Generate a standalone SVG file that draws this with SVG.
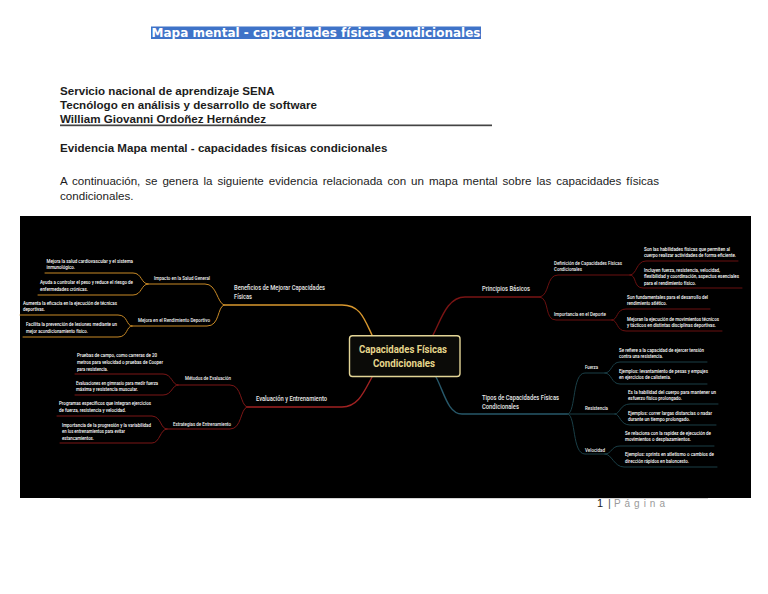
<svg xmlns="http://www.w3.org/2000/svg" width="768" height="594" viewBox="0 0 768 594">
<style>
text{font-family:"Roboto","Liberation Sans",sans-serif}
.doc{font-family:"Liberation Sans",Arial,sans-serif;font-size:11.6px;fill:#1c1c1c}
.bd{font-weight:700}
.s{font-size:5.2px;fill:#fff;font-weight:500}
.m{font-size:5.4px;fill:#f4f4f4;font-weight:500}
.l{font-size:6.8px;fill:#e8e8e8;font-weight:500}
.c{font-size:11px;fill:#e6d68c;font-weight:700}
path{fill:none;stroke-linecap:round}
.o{stroke:#c98a26;stroke-width:1}
.o1{stroke:#d9982e;stroke-width:1.4}
.r{stroke:#6a1010;stroke-width:1}
.r1{stroke:#7a1414;stroke-width:1.4}
.e{stroke:#7c1616;stroke-width:1}
.e1{stroke:#a02222;stroke-width:1.4}
.t{stroke:#1a3f47;stroke-width:1}
.t1{stroke:#27586a;stroke-width:1.4}
</style>
<rect width="768" height="594" fill="#fff"/>
<g id="header">
<rect x="151" y="26.5" width="330" height="12.5" fill="#3f73c8"/>
<text x="151.5" y="36.5" textLength="329" lengthAdjust="spacing" style="font-family:'DejaVu Sans',sans-serif;font-size:12px;font-weight:700;fill:#fff">Mapa mental - capacidades físicas condicionales</text>
<text class="doc bd" x="60" y="95">Servicio nacional de aprendizaje SENA</text>
<text class="doc bd" x="60" y="108.5">Tecnólogo en análisis y desarrollo de software</text>
<text class="doc bd" x="60" y="122.5">William Giovanni Ordoñez Hernández</text>
<rect x="60" y="124.5" width="432" height="1.7" fill="#444"/>
<text class="doc bd" x="60" y="152">Evidencia Mapa mental - capacidades físicas condicionales</text>
<text class="doc" x="60" y="185" style="word-spacing:1.7px">A continuación, se genera la siguiente evidencia relacionada con un mapa mental sobre las capacidades físicas</text>
<text class="doc" x="60" y="200">condicionales.</text>
</g>
<rect id="canvas" x="20" y="216" width="731" height="282" fill="#000"/>
<rect x="60" y="498" width="648" height="1" fill="#d4d4d4"/>
<g id="connectors">
<path class="o1" d="M372 335C364 318 360 305 342 305H224"/>
<path class="o" d="M224 305C217 303 217 284 205 284H148M148 284C141 284 142 273 133 273H45M148 284C141 284 142 295 133 295H38M224 305C217 307 220 326 207 326H132M132 326C126 326 128 315 118 315H20M132 326C126 326 128 337 118 337H23"/>
<path class="e1" d="M372 377C364 392 358 407 342 407H247"/>
<path class="e" d="M247 407C240 405 242 385 230 385H178M178 385C172 385 172 374 163 374H75M178 385C172 385 172 395 163 395H75M247 407C240 409 242 429 230 429H167M167 429C160 429 162 417 152 416H57M167 429C160 429 160 443 152 443H60"/>
<path class="r1" d="M433 335C441 320 447 297 465 297H540"/>
<path class="r" d="M540 297C550 295 546 275 558 275H630M630 275C637 275 636 261 646 261H738M630 275C637 275 633 288 643 288H742M540 297C550 299 544 320 556 320H612M612 320C618 320 616 309 626 309H710M612 320C618 320 616 331 626 331H722"/>
<path class="t1" d="M436 377C444 392 448 414 462 414H568"/>
<path class="t" d="M568 414C576 412 572 373 585 373H605M605 373C612 373 611 362 620 362H707M605 373C612 373 611 384 620 384H707M568 414H615M615 414C620 414 620 404 630 404H718M615 414C620 414 620 425 630 425H716M568 414C576 416 572 454 585 454H605M605 454C612 454 611 446 620 446H714M605 454C612 454 614 467 624 467H717"/>
</g>
<g id="center">
<rect x="349.5" y="335.8" width="110.5" height="40.7" rx="3" fill="#0b0b08" stroke="#e3d596" stroke-width="1.4"/>
<text class="c" x="359" y="353" textLength="88" lengthAdjust="spacingAndGlyphs">Capacidades Físicas</text>
<text class="c" x="373" y="367" textLength="62" lengthAdjust="spacingAndGlyphs">Condicionales</text>
</g>
<g id="beneficios">
<text class="l" x="234" y="290" textLength="91" lengthAdjust="spacingAndGlyphs">Beneficios de Mejorar Capacidades</text>
<text class="l" x="234" y="299" textLength="18" lengthAdjust="spacingAndGlyphs">Físicas</text>
</g>
<g id="impacto">
<text class="m" x="154" y="279.5" textLength="56" lengthAdjust="spacingAndGlyphs">Impacto en la Salud General</text>
<text class="s" x="46.5" y="263" textLength="86.5" lengthAdjust="spacingAndGlyphs">Mejora la salud cardiovascular y el sistema</text>
<text class="s" x="46.5" y="269" textLength="28.5" lengthAdjust="spacingAndGlyphs">inmunológico.</text>
<text class="s" x="40" y="284" textLength="93" lengthAdjust="spacingAndGlyphs">Ayuda a controlar el peso y reduce el riesgo de</text>
<text class="s" x="40" y="290.5" textLength="48" lengthAdjust="spacingAndGlyphs">enfermedades crónicas.</text>
</g>
<g id="rendimiento">
<text class="m" x="138" y="321.5" textLength="72" lengthAdjust="spacingAndGlyphs">Mejora en el Rendimiento Deportivo</text>
<text class="s" x="23" y="304.8" textLength="94" lengthAdjust="spacingAndGlyphs">Aumenta la eficacia en la ejecución de técnicas</text>
<text class="s" x="23" y="311" textLength="22" lengthAdjust="spacingAndGlyphs">deportivas.</text>
<text class="s" x="26" y="326" textLength="91" lengthAdjust="spacingAndGlyphs">Facilita la prevención de lesiones mediante un</text>
<text class="s" x="26" y="332.5" textLength="62" lengthAdjust="spacingAndGlyphs">mejor acondicionamiento físico.</text>
</g>
<g id="evaluacion-entrenamiento">
<text class="l" x="256" y="401" textLength="71" lengthAdjust="spacingAndGlyphs">Evaluación y Entrenamiento</text>
</g>
<g id="metodos">
<text class="m" x="185" y="380" textLength="46" lengthAdjust="spacingAndGlyphs">Métodos de Evaluación</text>
<text class="s" x="77" y="357" textLength="80" lengthAdjust="spacingAndGlyphs">Pruebas de campo, como carreras de 20</text>
<text class="s" x="77" y="363.5" textLength="86" lengthAdjust="spacingAndGlyphs">metros para velocidad o pruebas de Cooper</text>
<text class="s" x="77" y="370.5" textLength="31" lengthAdjust="spacingAndGlyphs">para resistencia.</text>
<text class="s" x="76" y="384.8" textLength="82" lengthAdjust="spacingAndGlyphs">Evaluaciones en gimnasio para medir fuerza</text>
<text class="s" x="76" y="391" textLength="62" lengthAdjust="spacingAndGlyphs">máxima y resistencia muscular.</text>
</g>
<g id="estrategias">
<text class="m" x="173" y="426" textLength="58" lengthAdjust="spacingAndGlyphs">Estrategias de Entrenamiento</text>
<text class="s" x="59" y="405" textLength="92" lengthAdjust="spacingAndGlyphs">Programas específicos que integran ejercicios</text>
<text class="s" x="59" y="411.5" textLength="67" lengthAdjust="spacingAndGlyphs">de fuerza, resistencia y velocidad.</text>
<text class="s" x="62" y="427" textLength="89" lengthAdjust="spacingAndGlyphs">Importancia de la progresión y la variabilidad</text>
<text class="s" x="62" y="433" textLength="63" lengthAdjust="spacingAndGlyphs">en los entrenamientos para evitar</text>
<text class="s" x="62" y="440" textLength="32" lengthAdjust="spacingAndGlyphs">estancamientos.</text>
</g>
<g id="principios">
<text class="l" x="482" y="291" textLength="48" lengthAdjust="spacingAndGlyphs">Principios Básicos</text>
</g>
<g id="definicion">
<text class="m" x="554" y="265" textLength="68" lengthAdjust="spacingAndGlyphs">Definición de Capacidades Físicas</text>
<text class="m" x="554" y="271" textLength="28" lengthAdjust="spacingAndGlyphs">Condicionales</text>
<text class="s" x="644" y="251" textLength="86" lengthAdjust="spacingAndGlyphs">Son las habilidades físicas que permiten al</text>
<text class="s" x="644" y="257" textLength="92" lengthAdjust="spacingAndGlyphs">cuerpo realizar actividades de forma eficiente.</text>
<text class="s" x="644" y="272" textLength="76" lengthAdjust="spacingAndGlyphs">Incluyen fuerza, resistencia, velocidad,</text>
<text class="s" x="644" y="278" textLength="95" lengthAdjust="spacingAndGlyphs">flexibilidad y coordinación, aspectos esenciales</text>
<text class="s" x="644" y="285" textLength="52" lengthAdjust="spacingAndGlyphs">para el rendimiento físico.</text>
</g>
<g id="importancia">
<text class="m" x="554" y="316" textLength="52" lengthAdjust="spacingAndGlyphs">Importancia en el Deporte</text>
<text class="s" x="627" y="298.5" textLength="81" lengthAdjust="spacingAndGlyphs">Son fundamentales para el desarrollo del</text>
<text class="s" x="627" y="305" textLength="40" lengthAdjust="spacingAndGlyphs">rendimiento atlético.</text>
<text class="s" x="627" y="321" textLength="92" lengthAdjust="spacingAndGlyphs">Mejoran la ejecución de movimientos técnicos</text>
<text class="s" x="627" y="327" textLength="89" lengthAdjust="spacingAndGlyphs">y tácticos en distintas disciplinas deportivas.</text>
</g>
<g id="tipos">
<text class="l" x="482" y="400" textLength="77" lengthAdjust="spacingAndGlyphs">Tipos de Capacidades Físicas</text>
<text class="l" x="482" y="408.5" textLength="37" lengthAdjust="spacingAndGlyphs">Condicionales</text>
</g>
<g id="fuerza">
<text class="m" x="585" y="369" textLength="13" lengthAdjust="spacingAndGlyphs">Fuerza</text>
<text class="s" x="619" y="352" textLength="85" lengthAdjust="spacingAndGlyphs">Se refiere a la capacidad de ejercer tensión</text>
<text class="s" x="619" y="358" textLength="44" lengthAdjust="spacingAndGlyphs">contra una resistencia.</text>
<text class="s" x="619" y="373" textLength="89" lengthAdjust="spacingAndGlyphs">Ejemplos: levantamiento de pesas y empujes</text>
<text class="s" x="619" y="379" textLength="52" lengthAdjust="spacingAndGlyphs">en ejercicios de calistenia.</text>
</g>
<g id="resistencia">
<text class="m" x="585" y="410" textLength="23" lengthAdjust="spacingAndGlyphs">Resistencia</text>
<text class="s" x="628" y="393.5" textLength="88" lengthAdjust="spacingAndGlyphs">Es la habilidad del cuerpo para mantener un</text>
<text class="s" x="628" y="399.5" textLength="54" lengthAdjust="spacingAndGlyphs">esfuerzo físico prolongado.</text>
<text class="s" x="628" y="414.5" textLength="84" lengthAdjust="spacingAndGlyphs">Ejemplos: correr largas distancias o nadar</text>
<text class="s" x="628" y="421" textLength="62" lengthAdjust="spacingAndGlyphs">durante un tiempo prolongado.</text>
</g>
<g id="velocidad">
<text class="m" x="585" y="451.5" textLength="20" lengthAdjust="spacingAndGlyphs">Velocidad</text>
<text class="s" x="625" y="435" textLength="86" lengthAdjust="spacingAndGlyphs">Se relaciona con la rapidez de ejecución de</text>
<text class="s" x="625" y="441" textLength="66" lengthAdjust="spacingAndGlyphs">movimientos o desplazamientos.</text>
<text class="s" x="625" y="456" textLength="89" lengthAdjust="spacingAndGlyphs">Ejemplos: sprints en atletismo o cambios de</text>
<text class="s" x="625" y="462.5" textLength="64" lengthAdjust="spacingAndGlyphs">dirección rápidos en baloncesto.</text>
</g>
<g id="footer">
<text x="597" y="507" style="font-family:'Liberation Sans',sans-serif;font-size:11px;fill:#222">1</text>
<text x="608" y="507" style="font-family:'Liberation Sans',sans-serif;font-size:11px;fill:#555">|</text>
<text x="614" y="507" textLength="51" style="font-family:'Liberation Sans',sans-serif;font-size:10px;fill:#9a9a9a">P á g i n a</text>
</g>
</svg>
